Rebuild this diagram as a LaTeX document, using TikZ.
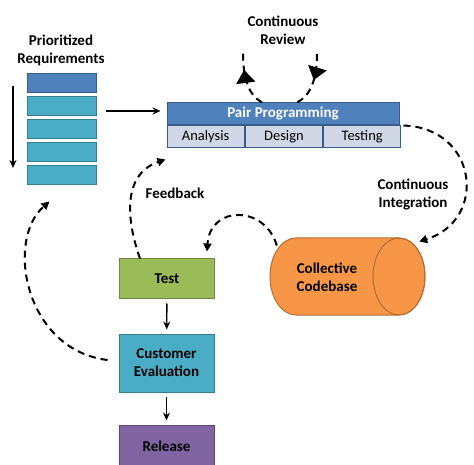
\documentclass[tikz,border=0pt]{standalone}
\usepackage{fontspec}
\setmainfont{Carlito}
\usetikzlibrary{arrows.meta,decorations.markings}
\definecolor{ppblue}{HTML}{4F81BD}
\definecolor{ppline}{HTML}{385D8A}
\definecolor{cellfill}{HTML}{D0D8E8}
\definecolor{reqteal}{HTML}{4BACC6}
\definecolor{reqline}{HTML}{357D91}
\definecolor{testgreen}{HTML}{9BBB59}
\definecolor{testline}{HTML}{71893F}
\definecolor{cborange}{HTML}{F79646}
\definecolor{cbline}{HTML}{B66D31}
\definecolor{relpurple}{HTML}{8064A2}
\definecolor{relline}{HTML}{5C4776}
\tikzset{
  reqbox/.style={draw=reqline, fill=reqteal, line width=1pt,
    minimum width=69pt, minimum height=19pt, inner sep=0pt},
  cellbox/.style={draw=ppline, fill=cellfill, line width=1pt,
    minimum width=77.3pt, minimum height=22pt, inner sep=0pt,
    font=\fontsize{14.5}{18}\selectfont, anchor=north west},
  procbox/.style={draw=#1line, line width=1pt, minimum width=95pt,
    align=center, inner sep=0pt},
  flow/.style={line width=1.4pt, -{Stealth[length=8pt,width=7pt]}},
  loop/.style={line width=2pt, dash pattern=on 7pt off 5pt,
    -{Triangle[length=8pt,width=8pt]}},
  bigtip/.style={postaction={decorate}, decoration={markings,
    mark=at position #1 with {\arrow{Triangle[length=13pt,width=19pt]}}}},
  capend/.style={x radius=26, y radius=38.5},
}
\begin{document}
\begin{tikzpicture}[x=1pt, y=-1pt, font=\fontsize{15}{18}\selectfont\bfseries]
	\useasboundingbox (0,0) rectangle (474,465);
	% requirements stack
	\node (reqtitle) [align=center] at (61,50) {Prioritized\\Requirements};
	\node (r1) [reqbox, fill=ppblue, draw=ppline] at (61.5,83.5) {};
	\foreach \i/\y in {2/106.5, 3/129.5, 4/152.5, 5/175.5}
	  \node (r\i) [reqbox] at (61.5,\y) {};
	\coordinate (ptop) at (13,86);
	\coordinate (pbot) at (13,168);
	\draw [ flow ] (ptop) -- (pbot);
	% pair programming
	\node (pp) [draw=ppline, fill=ppblue, line width=1pt, text=white,
	  minimum width=232pt, minimum height=22pt, inner sep=0pt] at (283,114)
	  {Pair Programming};
	\node (an) [cellbox] at (pp.south west) {Analysis};
	\node (de) [cellbox] at (an.north east) {Design};
	\node (te) [cellbox] at (de.north east) {Testing};
	\draw [ flow ]
	  ([shift={(9,4.5)}]r2.east) --
	  ([shift={(-6,-3)}]pp.west);
	% continuous review
	\node (review) [align=center] at (283,30) {Continuous\\Review};
	\draw [ line width=2pt, dash pattern=on 7pt off 5pt, bigtip=0.68 ]
	  ([xshift=-21pt]pp.north) .. controls (249,95) and (243,80) ..
	  ([yshift=-4pt]review.south -| 243,0);
	\draw [ line width=2pt, dash pattern=on 7pt off 5pt, bigtip=0.48 ]
	  ([yshift=-6pt]review.south -| 317,0) .. controls (317,80) and (310,96) ..
	  ([xshift=14pt]pp.north);
	% continuous integration
	\node (integ) [align=center] at (413,194) {Continuous\\Integration};
	\node (cb) [minimum width=155pt, minimum height=77pt, inner sep=0pt]
	  at (347.5,276.5) {};
	\draw [ cbline, fill=cborange, line width=1pt ]
	  ([shift={(-51.5,-38.5)}]cb.center) -- ++(103,0)
	  arc [capend, start angle=-90, end angle=90] -- ++(-103,0)
	  arc [capend, start angle=90, end angle=270] -- cycle;
	\draw [ cbline, line width=1pt ]
	  ([xshift=51.5]cb.center) ellipse [capend];
	\node (cbtext) [align=center] at (327,277.5) {Collective\\Codebase};
	\draw [ loop ]
	  ([xshift=4pt]pp.south east) .. controls (478,128) and (488,220) ..
	  ([shift={(-6,-35)}]cb.east);
	% test chain
	\node (test) [procbox=test, fill=testgreen, minimum height=39pt]
	  at (167,278.5) {Test};
	\node (cust) [procbox=req, fill=reqteal, minimum height=58pt]
	  at (166.5,363) {Customer\\Evaluation};
	\node (rel) [procbox=rel, fill=relpurple, minimum height=42pt]
	  at (166.5,446) {Release};
	\draw [ flow, shorten <=5pt, shorten >=4pt ] (test) -- (cust);
	\draw [ flow, shorten <=4pt, shorten >=4pt ] (cust) -- (rel);
	\draw [ loop ]
	  ([shift={(7,-31)}]cb.west) .. controls (265,205) and (210,205) ..
	  ([shift={(-8,-7)}]test.north east);
	% feedback loops
	\node (fb) at (175,193) {Feedback};
	\draw [ loop ]
	  ([xshift=-27pt]test.north) .. controls (128,225) and (120,175) ..
	  ([shift={(-1,11)}]an.south west);
	\draw [ loop ]
	  ([shift={(-11,-3)}]cust.west) .. controls (25,350) and (5,240) ..
	  ([shift={(23,16)}]r5.south west);
\end{tikzpicture}
\end{document}
